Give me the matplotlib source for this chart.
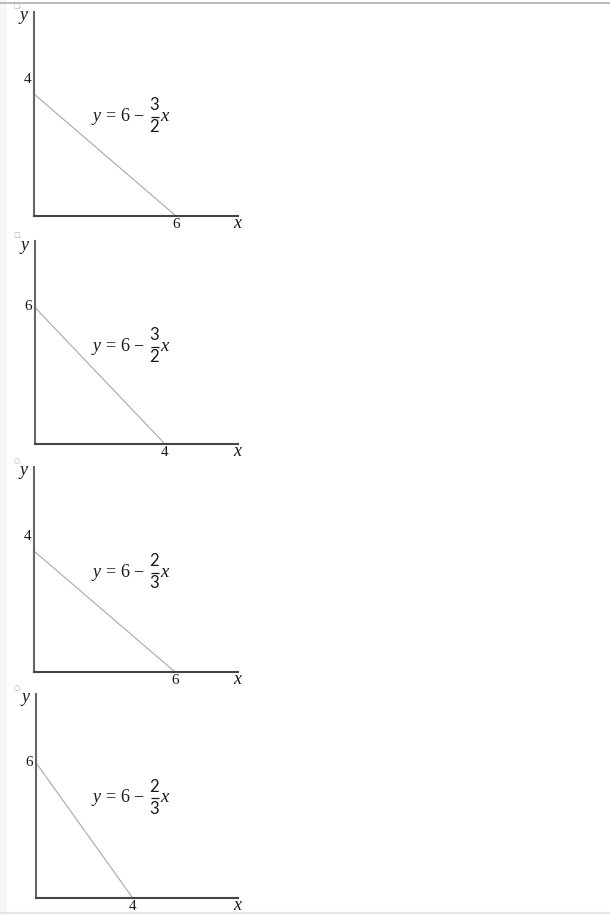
import matplotlib
matplotlib.use("Agg")
import matplotlib.pyplot as plt
from matplotlib.lines import Line2D
from matplotlib.patches import Rectangle

# ---- data ----
y_intercepts = [4, 6, 4, 6]
x_intercepts = [6, 4, 6, 4]
y_tick_labels = ["4", "6", "4", "6"]
x_tick_labels = ["6", "4", "6", "4"]
frac_num = ["3", "3", "2", "2"]
frac_den = ["2", "2", "3", "3"]
option_marks = ["\u25a1.", "\u25a1.", "\u25cb.", "\u25cb."]

# ---- layout (pixels) ----
W, H = 610, 915
DPI = 100
ax_left = [34, 34.5, 34, 35.5]
ax_right = 238
ax_top = [12, 241, 467, 694]
ax_bottom = [216, 444, 672, 898]
x_max = [8.62, 6.24, 8.68, 8.33]
y_max = [6.69, 8.89, 6.78, 9.0]
ylab_raise = [15, 0, 15, 0]   # px the y-intercept label sits above the line start
eq_dy = [0, -2, 0, 1]          # small vertical shifts of the equation per panel (px)

PT = 72.0 / DPI  # points per pixel

plt.rcParams['mathtext.fontset'] = 'custom'
plt.rcParams['mathtext.rm'] = 'Liberation Serif'
plt.rcParams['mathtext.it'] = 'Liberation Serif:italic'

fig = plt.figure(figsize=(W / DPI, H / DPI), dpi=DPI)
fig.patch.set_facecolor('white')

# page decorations
fig.add_artist(Rectangle((0, 0), 7 / W, 1, transform=fig.transFigure,
                         facecolor='#f7f7f7', edgecolor='none', zorder=0))
fig.add_artist(Line2D([0, 1], [1 - 3 / H, 1 - 3 / H], transform=fig.transFigure,
                      color='#b0b0b0', lw=1.2))
fig.add_artist(Line2D([0, 1], [1 - 913 / H, 1 - 913 / H], transform=fig.transFigure,
                      color='#e6e6e6', lw=1.5))

serif = ['Liberation Serif', 'DejaVu Serif']
sans = ['Lato', 'DejaVu Sans']
TXT = '#1a1a1a'

for i in range(4):
    l = ax_left[i] / W
    b = 1 - ax_bottom[i] / H
    wpx = ax_right - ax_left[i]
    hpx = ax_bottom[i] - ax_top[i]
    ax = fig.add_axes([l, b, wpx / W, hpx / H])
    ax.set_xlim(0, x_max[i])
    ax.set_ylim(0, y_max[i])
    ax.patch.set_alpha(0)
    for s in ['top', 'right']:
        ax.spines[s].set_visible(False)
    ax.spines['left'].set_color('#666666')
    ax.spines['bottom'].set_color('#444444')
    ax.spines['left'].set_linewidth(1.5)
    ax.spines['bottom'].set_linewidth(1.5)
    ax.set_xticks([])
    ax.set_yticks([])

    # the line
    ax.plot([0, x_intercepts[i]], [y_intercepts[i], 0], color='#a8a8a8', lw=0.8,
            clip_on=False)

    # intercept labels
    ax.annotate(y_tick_labels[i], (0, y_intercepts[i]), xytext=(-2.5 * PT, ylab_raise[i] * PT),
                textcoords='offset points', ha='right', va='center',
                fontsize=11, family=serif, color=TXT, annotation_clip=False)
    ax.annotate(x_tick_labels[i], (x_intercepts[i], 0), xytext=(0, -9 * PT),
                textcoords='offset points', ha='center', va='center',
                fontsize=11, family=serif, color=TXT, annotation_clip=False)

    # axis names
    ax.annotate('y', (0, 1), xycoords='axes fraction', xytext=(-10 * PT, -4 * PT),
                textcoords='offset points', ha='center', va='center',
                fontsize=13, family=serif, style='italic', color=TXT,
                annotation_clip=False)
    ax.annotate('x', (1, 0), xycoords='axes fraction', xytext=(-1 * PT, -8 * PT),
                textcoords='offset points', ha='center', va='center',
                fontsize=13, family=serif, style='italic', color=TXT,
                annotation_clip=False)

    # option mark
    ax.annotate(option_marks[i], (0, 1), xycoords='axes fraction',
                xytext=((18 - ax_left[i]) * PT, 6 * PT),
                textcoords='offset points', ha='center', va='center',
                fontsize=5, family=['DejaVu Sans'], color='#b0b0b0',
                annotation_clip=False)

    # equation  y = 6 - (num/den) x  (positions in px from axes origin)
    x0 = 92 - ax_left[i]
    base = 95 + eq_dy[i]

    ax.annotate(r"$y\,=\,6\,-$", (x0 - 1, base), xycoords='axes pixels',
                ha='left', va='baseline', color=TXT, fontsize=13,
                annotation_clip=False)
    ax.annotate(frac_num[i], (x0 + 62.5, base + 10.5), xycoords='axes pixels',
                ha='center', va='baseline', color=TXT, fontsize=12, family=sans,
                annotation_clip=False)
    ax.annotate(frac_den[i], (x0 + 62.5, base - 11.5), xycoords='axes pixels',
                ha='center', va='baseline', color=TXT, fontsize=12, family=sans,
                annotation_clip=False)
    ax.plot([(x0 + 58.5) / wpx, (x0 + 66.5) / wpx],
            [(base + 4.5) / hpx, (base + 4.5) / hpx],
            transform=ax.transAxes, color=TXT, lw=0.9, clip_on=False,
            solid_capstyle='butt')
    ax.annotate('x', (x0 + 68, base), xycoords='axes pixels',
                ha='left', va='baseline', color=TXT, fontsize=13.5,
                family=serif, style='italic', annotation_clip=False)

fig.savefig('out.png', dpi=DPI, facecolor='white')
